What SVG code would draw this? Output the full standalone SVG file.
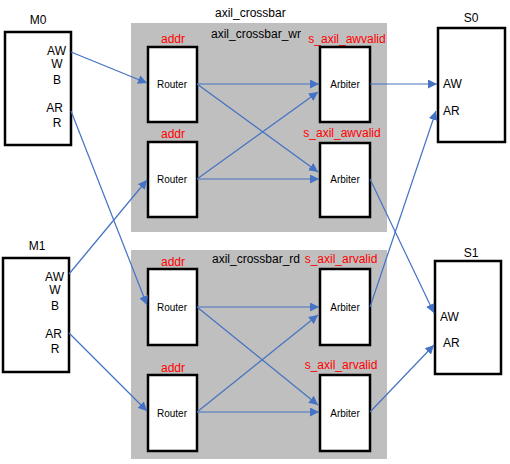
<svg xmlns="http://www.w3.org/2000/svg" width="510" height="464" viewBox="0 0 510 464">
<defs>
<marker id="arr" viewBox="0 0 10 10" refX="10" refY="5" markerWidth="9" markerHeight="9" markerUnits="userSpaceOnUse" orient="auto">
<path d="M0,0 L10,5 L0,10 z" fill="#4472C4"/>
</marker>
</defs>
<style>
text{font-family:"Liberation Sans",Arial,sans-serif;fill:#000}
.t12{font-size:12px}
.t10{font-size:10px}
.red{font-size:12px;fill:#FF0000}
.box{fill:#fff;stroke:#000;stroke-width:2.5}
.grp{fill:#BFBFBF}
.c{fill:none;stroke:#4472C4;stroke-width:1.2;marker-end:url(#arr)}
.m{text-anchor:middle}
.e{text-anchor:end}
</style>
<rect width="510" height="464" fill="#fff"/>
<text class="t12" x="215" y="17">axil_crossbar</text>
<g id="crossbar_wr">
<rect class="grp" x="131" y="23" width="256" height="209"/>
<text class="t12" x="211" y="38">axil_crossbar_wr</text>
</g>
<g id="crossbar_rd">
<rect class="grp" x="131" y="250" width="256" height="209"/>
<text class="t12" x="212" y="263">axil_crossbar_rd</text>
</g>
<g id="M0">
<text class="t12 m" x="38" y="24">M0</text>
<rect class="box" x="5" y="32" width="66" height="113"/>
<text class="t12 e" x="66" y="55">AW</text>
<text class="t12 m" x="57" y="68">W</text>
<text class="t12 m" x="57" y="84">B</text>
<text class="t12 e" x="63" y="112">AR</text>
<text class="t12 m" x="57" y="127">R</text>
</g>
<g id="M1">
<text class="t12 m" x="37" y="250">M1</text>
<rect class="box" x="3" y="258" width="66" height="114"/>
<text class="t12 e" x="64" y="281">AW</text>
<text class="t12 m" x="55" y="294">W</text>
<text class="t12 m" x="55" y="310">B</text>
<text class="t12 e" x="62" y="338">AR</text>
<text class="t12 m" x="55" y="353">R</text>
</g>
<g id="router1">
<text class="red m" x="173" y="43">addr</text>
<rect class="box" x="148" y="47" width="49" height="75"/>
<text class="t10 m" x="172" y="88">Router</text>
</g>
<g id="router2">
<text class="red m" x="173" y="138">addr</text>
<rect class="box" x="148" y="142" width="49" height="75"/>
<text class="t10 m" x="172" y="183">Router</text>
</g>
<g id="router3">
<text class="red m" x="173" y="266">addr</text>
<rect class="box" x="148" y="269" width="49" height="76"/>
<text class="t10 m" x="172" y="311">Router</text>
</g>
<g id="router4">
<text class="red m" x="173" y="372">addr</text>
<rect class="box" x="148" y="375" width="49" height="76"/>
<text class="t10 m" x="172" y="417">Router</text>
</g>
<g id="arbiter1">
<text class="red m" x="347" y="43">s_axil_awvalid</text>
<rect class="box" x="320" y="47" width="50" height="75"/>
<text class="t10 m" x="345" y="88">Arbiter</text>
</g>
<g id="arbiter2">
<text class="red m" x="342" y="137">s_axil_awvalid</text>
<rect class="box" x="320" y="143" width="50" height="74"/>
<text class="t10 m" x="345" y="183">Arbiter</text>
</g>
<g id="arbiter3">
<text class="red m" x="341" y="263">s_axil_arvalid</text>
<rect class="box" x="320" y="269" width="50" height="76"/>
<text class="t10 m" x="345" y="311">Arbiter</text>
</g>
<g id="arbiter4">
<text class="red m" x="341" y="369">s_axil_arvalid</text>
<rect class="box" x="320" y="375" width="50" height="76"/>
<text class="t10 m" x="345" y="417">Arbiter</text>
</g>
<g id="S0">
<text class="t12 m" x="471" y="22">S0</text>
<rect class="box" x="438" y="28" width="67" height="114"/>
<text class="t12" x="443" y="88">AW</text>
<text class="t12" x="443" y="115">AR</text>
</g>
<g id="S1">
<text class="t12 m" x="471" y="257">S1</text>
<rect class="box" x="435" y="261" width="66" height="113"/>
<text class="t12" x="440" y="321">AW</text>
<text class="t12" x="443" y="347">AR</text>
</g>
<g id="connectors">
<line class="c" x1="71" y1="52" x2="147" y2="83"/>
<line class="c" x1="71" y1="111" x2="147" y2="305"/>
<line class="c" x1="69" y1="274" x2="147" y2="180"/>
<line class="c" x1="69" y1="333" x2="147" y2="411"/>
<line class="c" x1="197" y1="84" x2="319" y2="84"/>
<line class="c" x1="197" y1="84" x2="318" y2="172"/>
<line class="c" x1="197" y1="179" x2="318" y2="92"/>
<line class="c" x1="197" y1="179" x2="319" y2="179"/>
<line class="c" x1="370" y1="84" x2="437" y2="84"/>
<line class="c" x1="370" y1="179" x2="434" y2="313"/>
<line class="c" x1="370" y1="307" x2="436" y2="111"/>
<line class="c" x1="370" y1="412" x2="434" y2="345"/>
<line class="c" x1="197" y1="307" x2="319" y2="307"/>
<line class="c" x1="197" y1="307" x2="318" y2="405"/>
<line class="c" x1="197" y1="412" x2="318" y2="315"/>
<line class="c" x1="197" y1="412" x2="319" y2="412"/>
</g>
</svg>
